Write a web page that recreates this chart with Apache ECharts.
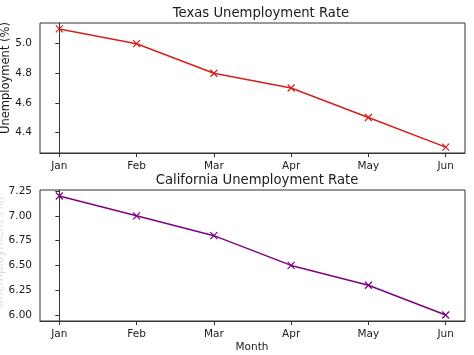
<!DOCTYPE html>
<html>
<head>
<meta charset="utf-8">
<script src="https://cdn.jsdelivr.net/npm/echarts@6/dist/echarts.min.js"></script>
<style>
html,body{margin:0;padding:0;background:#fff;}
#chart{width:474px;height:355px;}
</style>
</head>
<body>
<div id="chart"></div>
<script>
const months = ['Jan', 'Feb', 'Mar', 'Apr', 'May', 'Jun'];
const texasRate = [5.1, 5.0, 4.8, 4.7, 4.5, 4.3];
const californiaRate = [7.2, 7.0, 6.8, 6.5, 6.3, 6.0];
const texasTicks = [4.4, 4.6, 4.8, 5.0];
const californiaTicks = [6.0, 6.25, 6.5, 6.75, 7.0, 7.25];

const FONT = 'DejaVu Sans';
const TXT = '#1a1a1a';
const AX = '#333';
const xIdx = months.map((m, i) => i);
const toPairs = arr => arr.map((v, i) => [i, v]);
const xSymbol = 'path://M0,0L10,10M10,0L0,10';

function xAxisCfg(gridIndex) {
  return {
    type: 'value', gridIndex, min: -0.25, max: 5.25,
    axisLine: {show: true, lineStyle: {color: AX, width: 1}},
    axisTick: {show: true, length: 4, customValues: xIdx, lineStyle: {color: AX}},
    axisLabel: {customValues: xIdx, margin: 8, color: TXT, fontFamily: FONT, fontSize: 10.5,
      formatter: v => months[Math.round(v)]},
    splitLine: {show: false}
  };
}
function yAxisCfg(gridIndex, min, max, ticks, dec) {
  return {
    type: 'value', gridIndex, min, max,
    axisLine: {show: true, lineStyle: {color: AX, width: 1}},
    axisTick: {show: true, length: 4, customValues: ticks, lineStyle: {color: AX}},
    axisLabel: {customValues: ticks, margin: 8, color: TXT, fontFamily: FONT, fontSize: 10.5,
      formatter: v => v.toFixed(dec)},
    splitLine: {show: false}
  };
}
function seriesCfg(idx, data, color) {
  return {
    type: 'line', xAxisIndex: idx, yAxisIndex: idx, data: toPairs(data),
    symbol: xSymbol, symbolSize: 7, showSymbol: true,
    lineStyle: {color, width: 1.5},
    itemStyle: {color: 'none', borderColor: color, borderWidth: 1.2},
    emphasis: {disabled: true}, animation: false
  };
}

const chart = echarts.init(document.getElementById('chart'), null, {renderer: 'canvas'});
chart.setOption({
  animation: false,
  backgroundColor: '#fff',
  title: [
    {text: 'Texas Unemployment Rate', left: 256, top: 2, textAlign: 'center',
      textStyle: {fontFamily: FONT, fontSize: 13.2, fontWeight: 'normal', color: TXT}},
    {text: 'California Unemployment Rate', left: 252, top: 169, textAlign: 'center',
      textStyle: {fontFamily: FONT, fontSize: 13.2, fontWeight: 'normal', color: TXT}}
  ],
  grid: [
    {left: 40, top: 23, width: 425, height: 130, show: true, borderColor: AX, borderWidth: 1, backgroundColor: 'transparent'},
    {left: 40, top: 190, width: 425, height: 131, show: true, borderColor: AX, borderWidth: 1, backgroundColor: 'transparent'}
  ],
  xAxis: [xAxisCfg(0), xAxisCfg(1)],
  yAxis: [
    yAxisCfg(0, 4.26, 5.14, texasTicks, 1),
    yAxisCfg(1, 5.94, 7.26, californiaTicks, 2)
  ],
  series: [
    seriesCfg(0, texasRate, '#d61f1f'),
    seriesCfg(1, californiaRate, '#800080')
  ],
  graphic: [
    {type: 'text', x: 6, y: 78, rotation: Math.PI / 2,
      style: {text: 'Unemployment (%)', fill: TXT, font: '11.5px "DejaVu Sans"', textAlign: 'center', textVerticalAlign: 'middle'}},
    {type: 'text', x: 0, y: 252, rotation: Math.PI / 2,
      style: {text: 'Unemployment (%)', fill: '#ddd', font: '11.5px "DejaVu Sans"', textAlign: 'center', textVerticalAlign: 'middle'}},
    {type: 'text', x: 252, y: 347,
      style: {text: 'Month', fill: TXT, font: '10.5px "DejaVu Sans"', textAlign: 'center', textVerticalAlign: 'middle'}}
  ]
});
</script>
</body>
</html>
